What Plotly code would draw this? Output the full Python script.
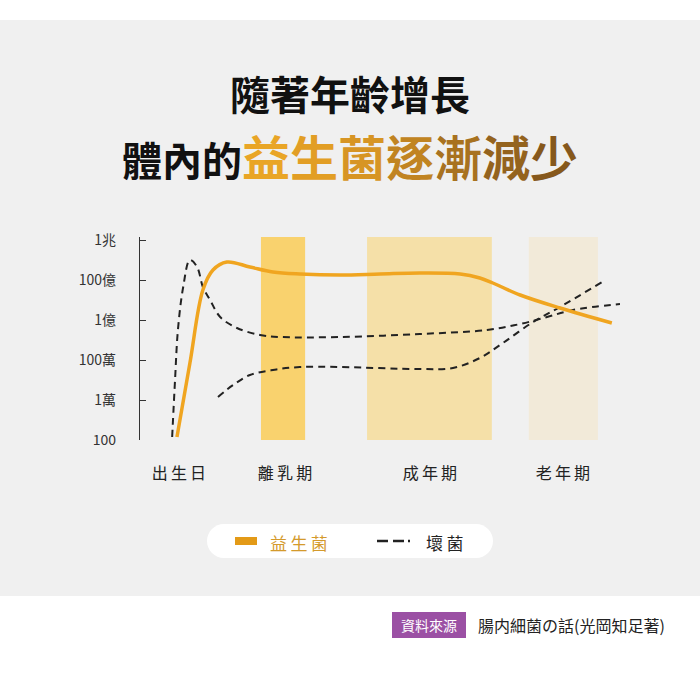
import plotly.graph_objects as go

# timeline runs 0..100 (birth -> old age), counts are log10 of bacteria count
good_x = [7.7, 10.4, 13.1, 15.2, 18.1, 22.9, 27.7, 33.3, 41.7, 50.0, 58.3, 66.7, 70.8, 73.5, 79.2, 87.5, 98.3]
good_exp = [2.15, 5.85, 9.5, 10.5, 10.9, 10.65, 10.4, 10.3, 10.25, 10.3, 10.35, 10.3, 10.1, 9.85, 9.25, 8.6, 7.85]

bad1_x = [6.7, 7.3, 7.9, 9.0, 10.4, 11.9, 13.1, 14.6, 16.7, 20.2, 25.0, 29.2, 41.7, 58.3, 72.3, 79.2, 84.8, 90.2, 100.0]
bad1_exp = [2.15, 5.0, 7.5, 9.65, 11.0, 10.65, 9.65, 9.0, 8.15, 7.6, 7.25, 7.15, 7.15, 7.3, 7.5, 7.8, 8.15, 8.5, 8.8]

bad2_x = [16.25, 19.4, 22.9, 27.7, 33.3, 41.7, 58.3, 65.2, 70.8, 75.6, 81.9, 87.5, 96.25]
bad2_exp = [4.15, 4.75, 5.25, 5.5, 5.65, 5.65, 5.55, 5.6, 6.1, 6.85, 7.9, 8.65, 9.9]

stages = ["出生日", "離乳期", "成年期", "老年期"]
stage_pos = [8.1, 30.2, 60.4, 88.1]

# shaded life periods: start, end, colour
period_start = [25.2, 47.3, 81.0]
period_end = [34.4, 73.3, 95.4]
period_color = ["#F9D26E", "#F5E0A8", "#F2EAD9"]

y_tickvals = [1e2, 1e4, 1e6, 1e8, 1e10, 1e12]
y_ticktext = ["100", "1萬", "100萬", "1億", "100億", "1兆"]

ORANGE = "#F0A520"
FONT = "Noto Sans CJK TC"
THIN = "\u2009"

# plot area in pixels (700x700 page)
L, R, T, B = 140, 620, 237, 440


def px_x(px):
    return (px - L) / (R - L)


def px_y(py):
    return (B - py) / (B - T)


def pt(px, py):
    return f"{px_x(px):.5f},{px_y(py):.5f}"


def spaced(s):
    return THIN.join(s)


fig = go.Figure()

fig.add_trace(go.Scatter(x=bad1_x, y=[10 ** e for e in bad1_exp], mode="lines",
                         line=dict(color="#222222", width=2, dash="7px,5px", shape="spline", smoothing=1),
                         name="壞菌", cliponaxis=False))
fig.add_trace(go.Scatter(x=bad2_x, y=[10 ** e for e in bad2_exp], mode="lines",
                         line=dict(color="#222222", width=2, dash="7px,5px", shape="spline", smoothing=1),
                         name="壞菌", cliponaxis=False))
fig.add_trace(go.Scatter(x=good_x, y=[10 ** e for e in good_exp], mode="lines",
                         line=dict(color=ORANGE, width=3.5, shape="spline", smoothing=1),
                         name="益生菌", cliponaxis=False))

shapes = []
# grey panel behind everything
shapes.append(dict(type="rect", xref="paper", yref="paper", x0=px_x(0), x1=px_x(700),
                   y0=px_y(596), y1=px_y(20), fillcolor="#F0F0F0", line_width=0, layer="below"))

for x0, x1, col in zip(period_start, period_end, period_color):
    shapes.append(dict(type="rect", xref="x", yref="paper", x0=x0, x1=x1, y0=0, y1=1,
                       fillcolor=col, line_width=0, layer="below"))

# legend pill (rounded ends drawn with cubic curves)
cx, cy, hw, hh = 350, 541, 143, 17
k = hh * 0.5523
xl, xr = cx - hw + hh, cx + hw - hh
pill = (f"M {pt(xl, cy - hh)} L {pt(xr, cy - hh)} "
        f"C {pt(xr + k, cy - hh)} {pt(cx + hw, cy - k)} {pt(cx + hw, cy)} "
        f"C {pt(cx + hw, cy + k)} {pt(xr + k, cy + hh)} {pt(xr, cy + hh)} "
        f"L {pt(xl, cy + hh)} "
        f"C {pt(xl - k, cy + hh)} {pt(cx - hw, cy + k)} {pt(cx - hw, cy)} "
        f"C {pt(cx - hw, cy - k)} {pt(xl - k, cy - hh)} {pt(xl, cy - hh)} Z")
shapes.append(dict(type="path", xref="paper", yref="paper", path=pill,
                   fillcolor="white", line_width=0))
shapes.append(dict(type="rect", xref="paper", yref="paper", x0=px_x(235), x1=px_x(257),
                   y0=px_y(545), y1=px_y(537), fillcolor="#E39A17", line_width=0))
for a, b in [(377, 388), (393, 404), (408, 410)]:
    shapes.append(dict(type="line", xref="paper", yref="paper", x0=px_x(a), x1=px_x(b),
                       y0=px_y(541), y1=px_y(541), line=dict(color="#222222", width=2.5)))

# source tag
shapes.append(dict(type="rect", xref="paper", yref="paper", x0=px_x(392), x1=px_x(466),
                   y0=px_y(638), y1=px_y(612), fillcolor="#9B50A4", line_width=0))

grad = ["#E9A526", "#E29E24", "#D79524", "#C18422", "#A87220", "#94631E", "#86581C"]
colored = "".join(f'<span style="color:{c};font-size:48px">{ch}</span>' for ch, c in zip("益生菌逐漸減少", grad))

annotations = [
    dict(text="<b>隨著年齡增長</b>", x=px_x(350), y=px_y(93), font=dict(size=40, color="#111111")),
    dict(text="<b>體內的" + colored + "</b>", x=px_x(350), y=px_y(155), font=dict(size=40, color="#111111")),
    dict(text=spaced("益生菌"), x=px_x(299), y=px_y(542), font=dict(size=17, color="#D49A2C")),
    dict(text=spaced("壞菌"), x=px_x(444), y=px_y(542), font=dict(size=17, color="#222222")),
    dict(text="資料來源", x=px_x(429), y=px_y(625), font=dict(size=14, color="white")),
    dict(text="腸内細菌の話(光岡知足著)", x=px_x(476), y=px_y(625), xanchor="left",
         font=dict(size=16, color="#222222")),
]
for a in annotations:
    a.update(xref="paper", yref="paper", showarrow=False)
    a.setdefault("xanchor", "center")
    a["yanchor"] = "middle"
    a["font"]["family"] = FONT

fig.update_layout(
    width=700, height=700,
    margin=dict(l=L, r=700 - R, t=T, b=700 - B, pad=0),
    paper_bgcolor="white", plot_bgcolor="#F0F0F0",
    showlegend=False,
    shapes=shapes, annotations=annotations,
    font=dict(family=FONT, color="#222222"),
    xaxis=dict(range=[0, 100], showgrid=False, zeroline=False, showline=False, ticks="",
               tickvals=stage_pos, ticktext=[spaced(s) for s in stages],
               tickfont=dict(size=16, color="#222222"), ticklabelstandoff=22),
    yaxis=dict(type="log", range=[2, 2 + (B - T) / 20], showgrid=False, zeroline=False,
               showline=True, linecolor="#333333", linewidth=1.2, ticks="inside", ticklen=6,
               tickcolor="#333333", tickwidth=1.2, tickvals=y_tickvals, ticktext=y_ticktext,
               tickfont=dict(size=14, color="#333333"), ticklabelstandoff=20),
)

fig.write_html("out.html", config={"displayModeBar": False},
               post_script="document.body.style.margin='0';")
